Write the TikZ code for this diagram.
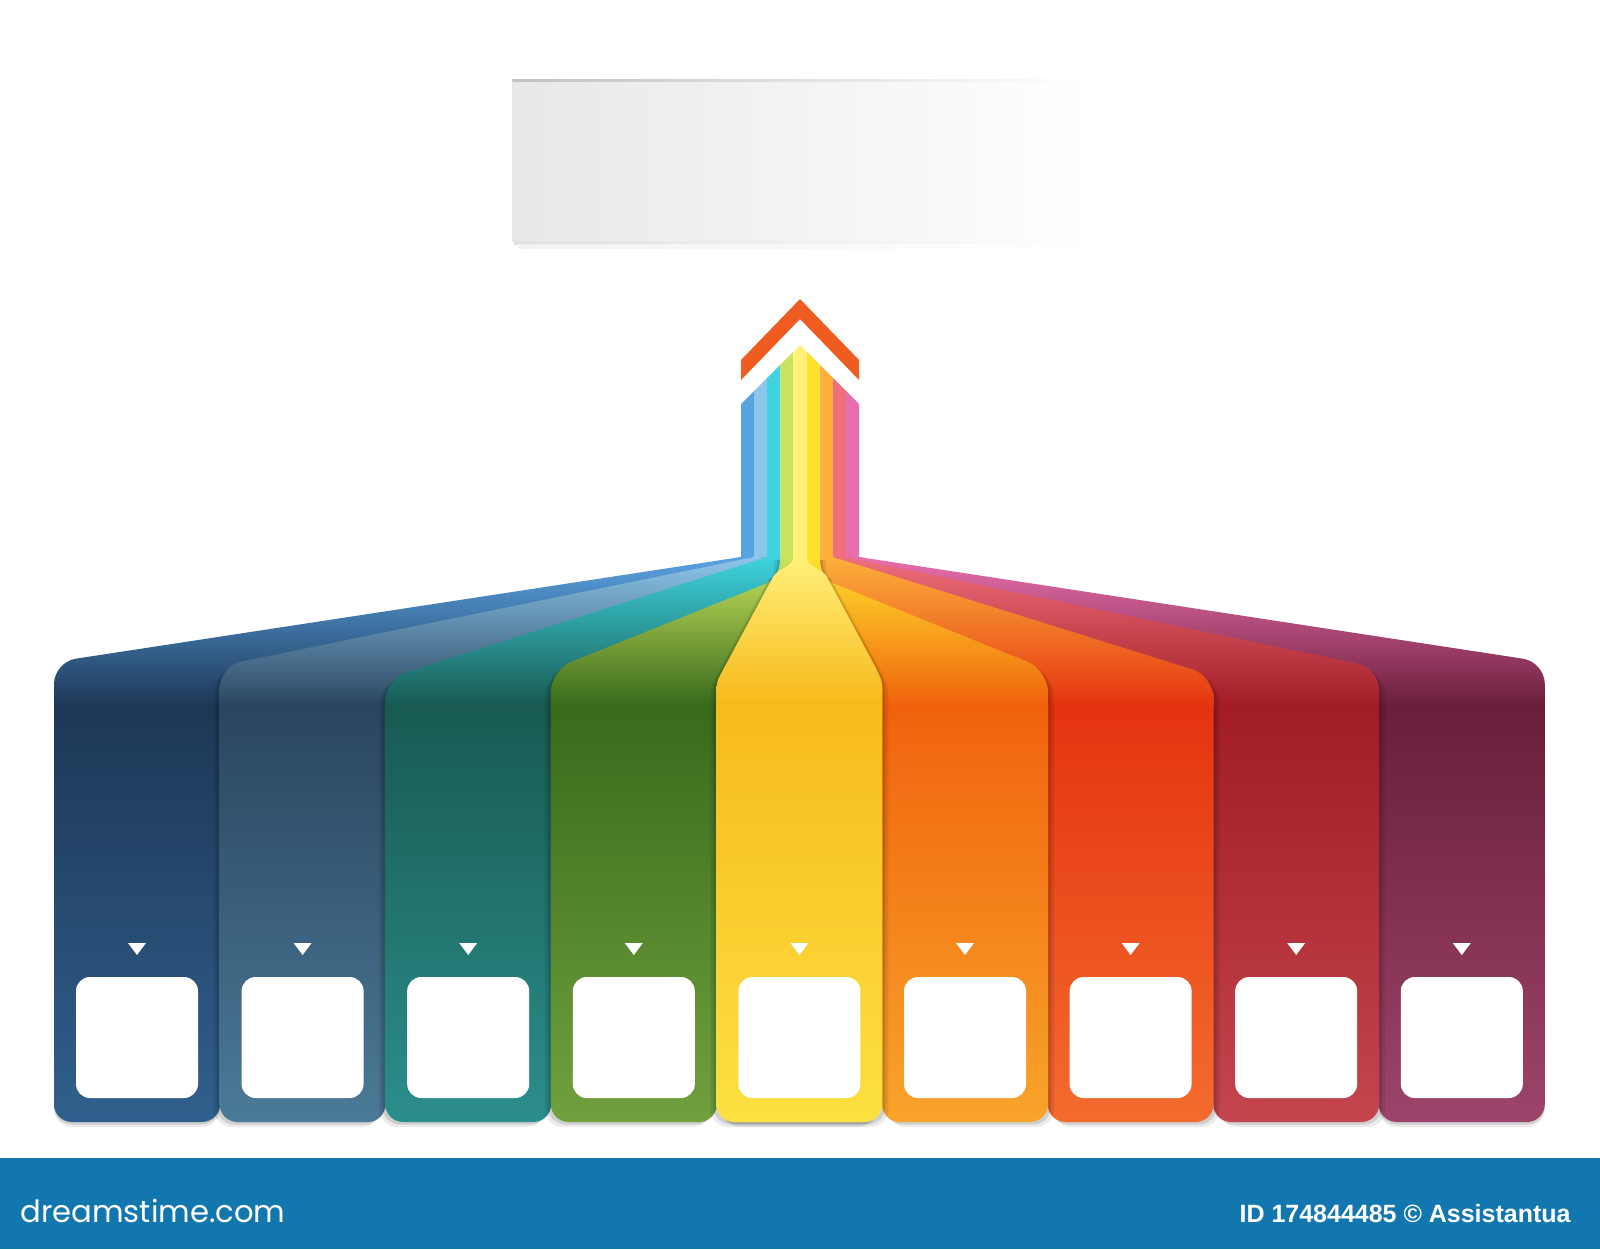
\documentclass[tikz,border=0pt]{standalone}
\usepackage{fontspec}
\usepackage{graphicx}
\newfontfamily\logofont{Poppins}
\newfontfamily\idfont{Liberation Sans}

% stripe colours
\definecolor{s1}{HTML}{5AA3E3}\definecolor{s2}{HTML}{8DC6EA}\definecolor{s3}{HTML}{3ED3DE}
\definecolor{s4}{HTML}{C9E35C}\definecolor{s5}{HTML}{FFF17A}\definecolor{s6}{HTML}{FFE12C}
\definecolor{s7}{HTML}{FDB03C}\definecolor{s8}{HTML}{F06F7C}\definecolor{s9}{HTML}{E86FAE}
% dark (shoulder) colours
\definecolor{d1}{HTML}{1D3756}\definecolor{d2}{HTML}{2A4560}\definecolor{d3}{HTML}{185A52}
\definecolor{d4}{HTML}{386A1C}\definecolor{d5}{HTML}{F7BA1C}\definecolor{d6}{HTML}{F0620D}
\definecolor{d7}{HTML}{E4330F}\definecolor{d8}{HTML}{A11C25}\definecolor{d9}{HTML}{6A1E3A}
% bottom colours
\definecolor{b1}{HTML}{31608E}\definecolor{b2}{HTML}{4B7B98}\definecolor{b3}{HTML}{2C8F8D}
\definecolor{b4}{HTML}{72A23E}\definecolor{b5}{HTML}{FDE142}\definecolor{b6}{HTML}{F9A52B}
\definecolor{b7}{HTML}{F46C2E}\definecolor{b8}{HTML}{C4464E}\definecolor{b9}{HTML}{9E456B}
\definecolor{chev}{HTML}{EE5D1F}
\definecolor{barblue}{HTML}{1276AF}

\def\colpathA{(741,404) -- (741,557) -- (75.7,658.7) .. controls (63.8,660.5) and (54,671.9) .. (54,684) -- (54,1104) .. controls (54,1114) and (62,1122) .. (72,1122) -- (202,1122) .. controls (212,1122) and (220,1114) .. (220,1104) -- (220,696) -- (800,600) -- (800,557) -- (754.1,557) -- (754.1,390.9) -- cycle}
\def\colpathB{(754.1,390.9) -- (754.1,557) -- (241.2,661.6) .. controls (229.3,664.0) and (219.6,675.9) .. (219.6,688) -- (219.6,1104) .. controls (219.6,1114) and (227.6,1122) .. (237.6,1122) -- (367.6,1122) .. controls (377.6,1122) and (385.6,1114) .. (385.6,1104) -- (385.6,709) -- (800,600) -- (800,557) -- (767.2,557) -- (767.2,377.8) -- cycle}
\def\colpathC{(767.2,377.8) -- (767.2,557) -- (406.2,672.3) .. controls (394.6,676.0) and (385.2,688.9) .. (385.2,701) -- (385.2,1104) .. controls (385.2,1114) and (393.2,1122) .. (403.2,1122) -- (533.2,1122) .. controls (543.2,1122) and (551.2,1114) .. (551.2,1104) -- (551.2,700) -- (800,600) -- (800,557) -- (780.3,557) -- (780.3,364.7) -- cycle}
\def\colpathD{(780.3,364.7) -- (780.3,557) .. controls (780.3,572) and (774.3,580.3) .. (765,584) -- (571.2,661.8) .. controls (560.0,666.3) and (550.8,679.9) .. (550.8,692) -- (550.8,1104) .. controls (550.8,1114) and (558.8,1122) .. (568.8,1122) -- (698.8,1122) .. controls (708.8,1122) and (716.8,1114) .. (716.8,1104) -- (716.8,710) -- (800,600) -- (800,557) -- (793.4,557) -- (793.4,351.6) -- cycle}
\def\colpathE{(793.4,351.6) -- (800,345) -- (806.6,351.6) -- (806.6,557) .. controls (806.6,567) and (822.3,568.2) .. (827,577) -- (876,668) .. controls (882.4,682) .. (882.4,697) -- (882.4,1104) .. controls (882.4,1114) and (874.4,1122) .. (864.4,1122) -- (734.4,1122) .. controls (724.4,1122) and (716.4,1114) .. (716.4,1104) -- (716.4,697) .. controls (716.4,682) .. (724,668) -- (773,577) .. controls (777.7,568.2) and (793.4,567) .. (793.4,557) -- cycle}
\def\colpathF{(819.7,364.7) -- (819.7,557) .. controls (819.7,572) and (825.7,580.3) .. (835,584) -- (1027.6,661.8) .. controls (1038.8,666.3) and (1048,679.9) .. (1048,692) -- (1048,1104) .. controls (1048,1114) and (1040,1122) .. (1030,1122) -- (900,1122) .. controls (890,1122) and (882,1114) .. (882,1104) -- (882,710) -- (800,600) -- (800,557) -- (806.6,557) -- (806.6,351.6) -- cycle}
\def\colpathG{(832.8,377.8) -- (832.8,557) -- (1192.6,669.4) .. controls (1204.2,673.1) and (1213.6,685.9) .. (1213.6,698) -- (1213.6,1104) .. controls (1213.6,1114) and (1205.6,1122) .. (1195.6,1122) -- (1065.6,1122) .. controls (1055.6,1122) and (1047.6,1114) .. (1047.6,1104) -- (1047.6,700) -- (800,600) -- (800,557) -- (819.7,557) -- (819.7,364.7) -- cycle}
\def\colpathH{(845.9,390.9) -- (845.9,557) -- (1357.7,663.5) .. controls (1369.5,666.0) and (1379.2,677.9) .. (1379.2,690) -- (1379.2,1104) .. controls (1379.2,1114) and (1371.2,1122) .. (1361.2,1122) -- (1231.2,1122) .. controls (1221.2,1122) and (1213.2,1114) .. (1213.2,1104) -- (1213.2,706) -- (800,600) -- (800,557) -- (832.8,557) -- (832.8,377.8) -- cycle}
\def\colpathI{(859,404) -- (859,557) -- (1523.1,658.7) .. controls (1535.0,660.5) and (1544.8,671.9) .. (1544.8,684) -- (1544.8,1104) .. controls (1544.8,1114) and (1536.8,1122) .. (1526.8,1122) -- (1396.8,1122) .. controls (1386.8,1122) and (1378.8,1114) .. (1378.8,1104) -- (1378.8,698) -- (800,600) -- (800,557) -- (845.9,557) -- (845.9,390.9) -- cycle}

\newcommand\drawcol[5]{%
  \begin{scope}
    \clip #1;
    \fill[#2] (600,280) rectangle (1000,558);
    \shade[top color=#2,bottom color=#3] (0,557) rectangle (1600,#5+1);
    \shade[top color=#3,bottom color=#4] (0,#5) rectangle (1600,1130);
  \end{scope}}
% #1 path, #2 x-shift, #3 top of the shadowed zone
\newcommand\colshadow[3]{%
  \begin{scope}
    \clip (0,#3) rectangle (1600,1160);
    \fill[black,opacity=0.08,shift={(#2,5)}] #1;
    \fill[black,opacity=0.12,shift={(#2*0.5,2.5)}] #1;
  \end{scope}}

\tikzset{
  sqbox/.style={fill=white, draw=none, rounded corners=7pt, minimum width=61pt, minimum height=60.5pt, inner sep=0pt},
  tri/.style={fill=white, draw=none}
}

\begin{document}
\begin{tikzpicture}[x=0.5pt,y=-0.5pt]
\useasboundingbox (0,0) rectangle (1600,1249);
\fill[white] (0,0) rectangle (1600,1249);

% banner
\shade[left color=black!9, right color=white] (512,81) rectangle (1092,241);
\shade[left color=black!24, right color=white] (512,79) rectangle (1085,81.5);
\shade[left color=black!12, middle color=black!22, right color=white] (514,241) rectangle (1100,244);
\shade[left color=black!5, middle color=black!9, right color=white] (518,244) rectangle (1100,248);
\draw[black!10, line width=0.4pt] (512,81) -- (512,241);

% chevron
\fill[chev] (741,360) -- (800,299) -- (859,360) -- (859,380) -- (800,319) -- (741,380) -- cycle;

% columns, back to front
\colshadow{\colpathA}{0}{557}
\drawcol{\colpathA}{s1}{d1}{b1}{705}
\colshadow{\colpathI}{0}{557}
\drawcol{\colpathI}{s9}{d9}{b9}{705}
\colshadow{\colpathB}{-6}{557}
\drawcol{\colpathB}{s2}{d2}{b2}{705}
\colshadow{\colpathH}{6}{557}
\drawcol{\colpathH}{s8}{d8}{b8}{705}
\colshadow{\colpathC}{-6}{557}
\drawcol{\colpathC}{s3}{d3}{b3}{705}
\colshadow{\colpathG}{6}{557}
\drawcol{\colpathG}{s7}{d7}{b7}{705}
\colshadow{\colpathD}{-6}{560}
\drawcol{\colpathD}{s4}{d4}{b4}{705}
\colshadow{\colpathF}{6}{560}
\drawcol{\colpathF}{s6}{d6}{b6}{705}
\colshadow{\colpathE}{-6}{578}
\colshadow{\colpathE}{6}{578}
\drawcol{\colpathE}{s5}{d5}{b5}{700}

% triangles and white boxes
\foreach \cx [count=\k] in {137,302.6,468.2,633.8,799.4,965,1130.6,1296.2,1461.8}{
  \fill[tri] (\cx-9,943) -- (\cx+9,943) -- (\cx,955) -- cycle;
  \node[sqbox] (box\k) at (\cx,1037.5) {};
}

% bottom bar
\fill[barblue] (0,1158) rectangle (1600,1249);
\node[anchor=base west, inner sep=0pt, text=white] (logo) at (20,1222)
  {\resizebox{132.5pt}{!}{\logofont dreamstime.com}};
\node[anchor=base east, inner sep=0pt, text=white] (idtext) at (1571,1222)
  {\resizebox{165.5pt}{!}{\idfont\bfseries ID 174844485 © Assistantua}};
\end{tikzpicture}
\end{document}
